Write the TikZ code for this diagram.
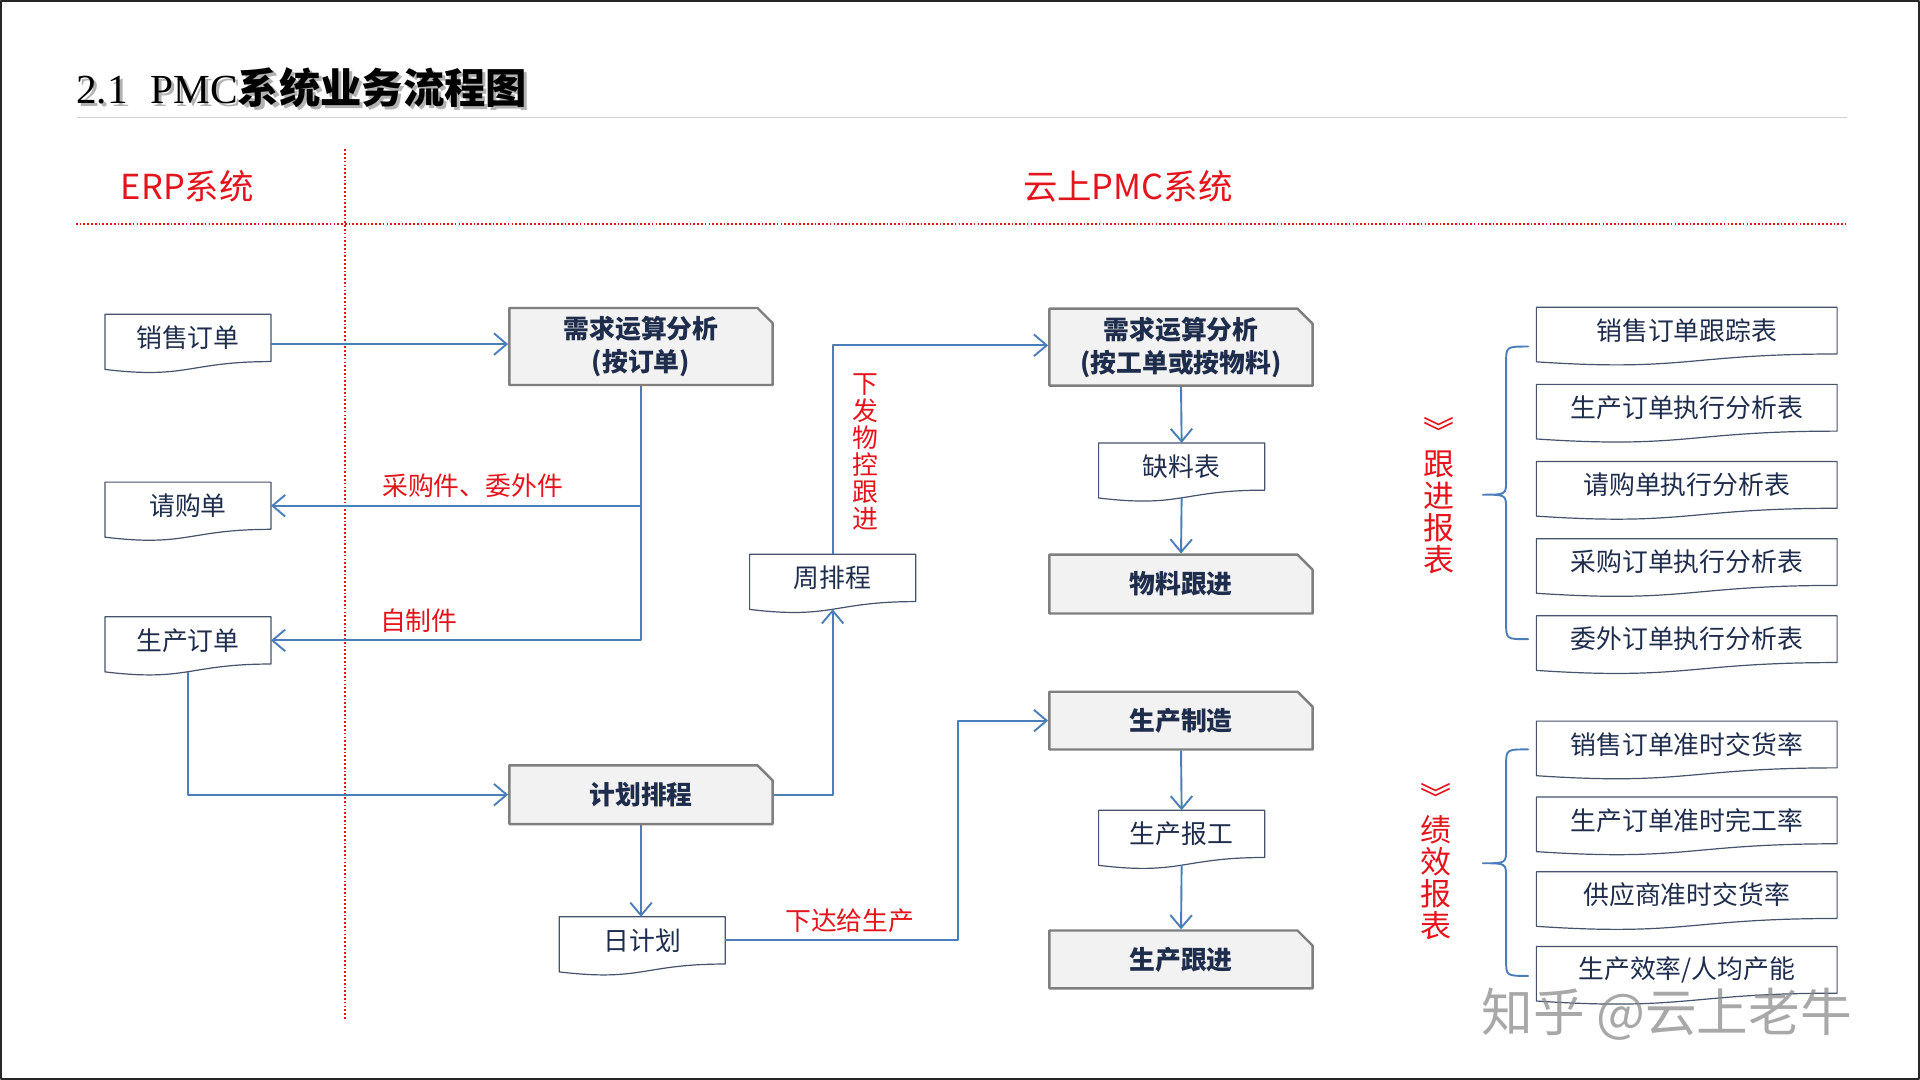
\documentclass[tikz,border=0pt]{standalone}
\usepackage{fontspec}
\setmainfont{Liberation Serif}
\newfontfamily\cjk{Noto Sans CJK SC}
\usetikzlibrary{arrows.meta,calc,shapes.misc}
\definecolor{pmcink}{HTML}{1F2D4D}
\definecolor{pmcline}{HTML}{4A7EBB}
\definecolor{pmcred}{HTML}{E3141B}
\definecolor{pmcedge}{HTML}{44546A}
\definecolor{pmcfill}{HTML}{F2F2F2}
\definecolor{pmcframe}{HTML}{7F7F7F}

\begin{document}
\begin{tikzpicture}[x=0.025cm,y=-0.025cm,line join=round,
  doc/.style={inner sep=0pt,minimum width=3.375cm,minimum height=0.95cm,text=pmcink,
    font=\cjk\fontsize{15}{18}\selectfont},
  rep/.style={doc,minimum width=6.125cm,minimum height=0.94cm},
  proc/.style={chamfered rectangle,chamfered rectangle corners=north east,
    chamfered rectangle xsep=0.14cm,chamfered rectangle ysep=0.17cm,
    draw=pmcframe,line width=1.4pt,fill=pmcfill,minimum width=5.375cm,inner sep=0pt,
    align=center,text=pmcink,font=\cjk\bfseries\fontsize{15}{19}\selectfont},
  wave/.style={draw=pmcedge,line width=0.7pt},
  arr/.style={-{Straight Barb[length=2.6mm,width=4.4mm]},line width=1.1pt,draw=pmcline},
  brace/.style={draw=pmcline,line width=1.1pt,line cap=round},
  lab/.style={text=pmcred,font=\cjk\fontsize{15}{18}\selectfont,inner sep=1pt},
  vlab/.style={lab,align=center,font=\cjk\fontsize{15}{15.6}\selectfont},
  side/.style={text=pmcred,align=center,inner sep=0pt,font=\cjk\fontsize{18}{18.6}\selectfont},
  head/.style={text=pmcred,font=\cjk\fontsize{20}{24}\selectfont},
  title/.style={anchor=west,inner sep=0pt,font=\fontsize{24}{28}\selectfont},
  reddot/.style={pmcred,line width=1pt,dash pattern=on 1pt off 1.2pt}]
\path[use as bounding box] (0,0) rectangle (1568,882);
\fill[white] (0,0) rectangle (1568,882);
\draw[black!85,line width=1.2pt] (0.6,0.6) rectangle (1567.4,881.4);
% title and lanes
\node[title,text=black!30] (tsh) at (64.5,74.5) {2.1\hspace{0.55em}PMC{\cjk\bfseries 系统业务流程图}};
\node[title] (tt) at (62,72) {2.1\hspace{0.55em}PMC{\cjk\bfseries 系统业务流程图}};
\draw[black!18,line width=1pt] (63,96) -- (1508,96);
\node[head] (erp) at (153,152) {ERP系统};
\node[head] (yun) at (921,152) {云上PMC系统};
\draw[reddot] (62,183) -- (1507,183);
\draw[reddot] (282,122) -- (282,832);
% documents
\node[doc] (xs) at (153.5,276) {销售订单};
\node[doc] (qg) at (153.5,413) {请购单};
\node[doc] (sc) at (153.5,523) {生产订单};
\node[doc] (zp) at (680,472) {周排程};
\node[doc] (rj) at (524.5,768) {日计划};
\node[doc] (ql) at (965,381) {缺料表};
\node[doc] (bg) at (965,681) {生产报工};
\foreach \n/\y/\t in {r1/270/销售订单跟踪表,r2/333/生产订单执行分析表,r3/396/请购单执行分析表,
    r4/459/采购订单执行分析表,r5/522/委外订单执行分析表,r6/608/销售订单准时交货率,
    r7/670/生产订单准时完工率,r8/731/供应商准时交货率,r9/792/{生产效率/人均产能}}
  \node[rep] (\n) at (1377.5,\y) {\t};
\foreach \n in {xs,qg,sc,zp,rj,ql,bg,r1,r2,r3,r4,r5,r6,r7,r8,r9} {
  \draw[wave] (\n.north west) -- (\n.north east) -- (\n.south east)
    .. controls (\n.south) and ($(\n.south)+(0,14.6)$) .. ($(\n.south west)+(0,6.4)$) -- cycle;
  \coordinate (\n-b) at ($(\n.south)+(0,6.3)$);
}
% processes
\node[proc,minimum height=1.5cm] (xq1) at (523.5,283) {需求运算分析\\(按订单)};
\node[proc,minimum height=1.2cm] (jh) at (523.5,649) {计划排程};
\node[proc,minimum height=1.52cm] (xq2) at (964.5,283.5) {需求运算分析\\(按工单或按物料)};
\node[proc,minimum height=1.2cm] (wl) at (964.5,477) {物料跟进};
\node[proc,minimum height=1.18cm] (sz) at (964.5,588.5) {生产制造};
\node[proc,minimum height=1.18cm] (sg) at (964.5,783.5) {生产跟进};
% flows
\draw[arr] (xs.east |- 0,281) -- (xq1.west |- 0,281);
\draw[arr] (xq1.south) |- (sc.east);
\draw[arr] (xq1.south |- qg.east) -- (qg.east);
\node[lab] (lcg) at (386,397) {采购件、委外件};
\node[lab] (lzz) at (342,507) {自制件};
\draw[arr] (sc-b) |- (jh.west);
\draw[arr] (jh.east) -| (zp-b);
\draw[arr] (zp.north) |- (xq2.west |- 0,282);
\node[vlab] (lxf) at (707,369) {下\\发\\物\\控\\跟\\进};
\draw[arr] (jh.south) -- (jh.south |- rj.north);
\coordinate (xd) at (782,588.5);
\draw[arr] (rj.east) -| (xd) -- (sz.west);
\node[lab] (lxd) at (694,752) {下达给生产};
\draw[arr] (xq2.south) -- (ql.north);
\draw[arr] (ql-b) -- (wl.north);
\draw[arr] (sz.south) -- (bg.north);
\draw[arr] (bg-b) -- (sg.north);
% report groups
\foreach \t/\m/\b in {283/404/522,612/705/797}
  \draw[brace] (1248,\t) .. controls (1230,\t) .. (1230,\t+13) -- (1230,\m-12)
    .. controls (1230,\m) .. (1211,\m) .. controls (1230,\m) .. (1230,\m+12)
    -- (1230,\b-13) .. controls (1230,\b) .. (1248,\b);
\node[side] (gj) at (1175,404.5) {︾\\跟\\进\\报\\表};
\node[side] (jx) at (1173,704) {︾\\绩\\效\\报\\表};
\node[inner sep=0pt,text=black!45,opacity=0.75,font=\cjk\fontsize{30}{34}\selectfont] (wm) at (1361,828) {知乎 @云上老牛};
\end{tikzpicture}
\end{document}
